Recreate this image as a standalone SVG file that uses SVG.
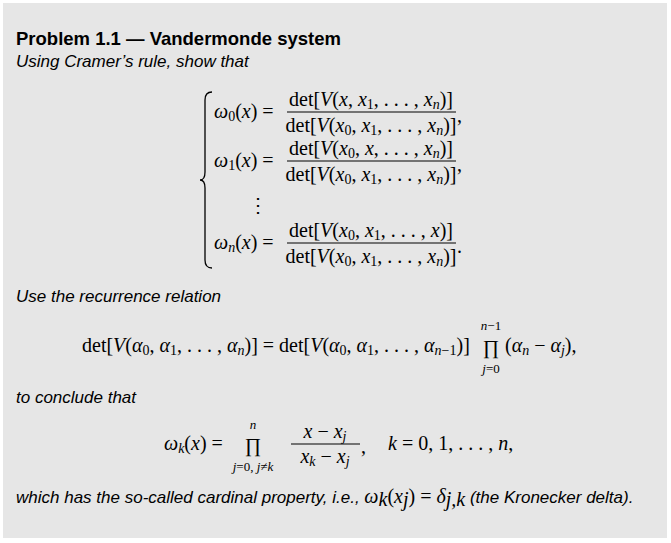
<svg xmlns="http://www.w3.org/2000/svg" width="671" height="543" viewBox="0 0 671 543">
<style>
.s{font-family:"Liberation Sans",Arial,sans-serif;font-size:17px;fill:#000}
.b{font-weight:bold;font-size:18.5px}
.it{font-style:italic}
.m{font-family:"Liberation Serif","Times New Roman",serif;font-size:20px;fill:#000}
.i{font-style:italic}
.sub{font-size:14px}
.sm{font-family:"Liberation Serif",serif;font-size:13px;fill:#000}
.fl{stroke:#000;stroke-width:1}
</style>
<rect x="3" y="3" width="664" height="535" fill="#e6e6e6"/>
<g id="title">
<text class="s b" x="16" y="45">Problem 1.1 — Vandermonde system</text>
<text class="s it" x="16" y="67">Using Cramer’s rule, show that</text>
</g>
<g id="system">
<path d="M212,92 Q205,92 205,100 L205,172 Q205,180 200,180 Q205,180 205,188 L205,260 Q205,268 212,268" fill="none" stroke="#000" stroke-width="1.3"/>
<text class="m" x="214" y="118"><tspan class="i">ω</tspan><tspan class="sub" dy="3">0</tspan><tspan dy="-3">(</tspan><tspan class="i">x</tspan>) =</text>
<text class="m" x="371" y="106" text-anchor="middle">det[<tspan class="i">V</tspan>(<tspan class="i">x</tspan>, <tspan class="i">x</tspan><tspan class="sub" dy="3">1</tspan><tspan dy="-3">, . . . , </tspan><tspan class="i">x</tspan><tspan class="sub i" dy="3">n</tspan><tspan dy="-3">)]</tspan></text>
<line class="fl" x1="287" y1="112" x2="456" y2="112"/>
<text class="m" x="371" y="132" text-anchor="middle">det[<tspan class="i">V</tspan>(<tspan class="i">x</tspan><tspan class="sub" dy="3">0</tspan><tspan dy="-3">, </tspan><tspan class="i">x</tspan><tspan class="sub" dy="3">1</tspan><tspan dy="-3">, . . . , </tspan><tspan class="i">x</tspan><tspan class="sub i" dy="3">n</tspan><tspan dy="-3">)]</tspan></text>
<text class="m" x="457" y="122">,</text>

<text class="m" x="214" y="167"><tspan class="i">ω</tspan><tspan class="sub" dy="3">1</tspan><tspan dy="-3">(</tspan><tspan class="i">x</tspan>) =</text>
<text class="m" x="371" y="155" text-anchor="middle">det[<tspan class="i">V</tspan>(<tspan class="i">x</tspan><tspan class="sub" dy="3">0</tspan><tspan dy="-3">, </tspan><tspan class="i">x</tspan>, . . . , <tspan class="i">x</tspan><tspan class="sub i" dy="3">n</tspan><tspan dy="-3">)]</tspan></text>
<line class="fl" x1="287" y1="161" x2="456" y2="161"/>
<text class="m" x="371" y="181" text-anchor="middle">det[<tspan class="i">V</tspan>(<tspan class="i">x</tspan><tspan class="sub" dy="3">0</tspan><tspan dy="-3">, </tspan><tspan class="i">x</tspan><tspan class="sub" dy="3">1</tspan><tspan dy="-3">, . . . , </tspan><tspan class="i">x</tspan><tspan class="sub i" dy="3">n</tspan><tspan dy="-3">)]</tspan></text>
<text class="m" x="457" y="171">,</text>

<text class="m" x="258" y="212" text-anchor="middle">⋮</text>

<text class="m" x="214" y="249"><tspan class="i">ω</tspan><tspan class="sub i" dy="3">n</tspan><tspan dy="-3">(</tspan><tspan class="i">x</tspan>) =</text>
<text class="m" x="371" y="237" text-anchor="middle">det[<tspan class="i">V</tspan>(<tspan class="i">x</tspan><tspan class="sub" dy="3">0</tspan><tspan dy="-3">, </tspan><tspan class="i">x</tspan><tspan class="sub" dy="3">1</tspan><tspan dy="-3">, . . . , </tspan><tspan class="i">x</tspan>)]</text>
<line class="fl" x1="287" y1="243" x2="456" y2="243"/>
<text class="m" x="371" y="263" text-anchor="middle">det[<tspan class="i">V</tspan>(<tspan class="i">x</tspan><tspan class="sub" dy="3">0</tspan><tspan dy="-3">, </tspan><tspan class="i">x</tspan><tspan class="sub" dy="3">1</tspan><tspan dy="-3">, . . . , </tspan><tspan class="i">x</tspan><tspan class="sub i" dy="3">n</tspan><tspan dy="-3">)]</tspan></text>
<text class="m" x="457" y="253">.</text>
</g>
<g id="recurrence">
<text class="s it" x="16" y="302">Use the recurrence relation</text>
<text class="m" x="82" y="352">det[<tspan class="i">V</tspan>(<tspan class="i">α</tspan><tspan class="sub" dy="3">0</tspan><tspan dy="-3">, </tspan><tspan class="i">α</tspan><tspan class="sub" dy="3">1</tspan><tspan dy="-3">, . . . , </tspan><tspan class="i">α</tspan><tspan class="sub i" dy="3">n</tspan><tspan dy="-3">)] = det[</tspan><tspan class="i">V</tspan>(<tspan class="i">α</tspan><tspan class="sub" dy="3">0</tspan><tspan dy="-3">, </tspan><tspan class="i">α</tspan><tspan class="sub" dy="3">1</tspan><tspan dy="-3">, . . . , </tspan><tspan class="i">α</tspan><tspan class="sub" dy="3"><tspan class="i">n</tspan>−1</tspan><tspan dy="-3">)]</tspan></text>
<text class="m" x="491" y="354" text-anchor="middle" font-size="26">∏</text>
<text class="sm i" x="491" y="330" text-anchor="middle">n<tspan font-style="normal">−1</tspan></text>
<text class="sm" x="491" y="373" text-anchor="middle"><tspan class="i">j</tspan>=0</text>
<text class="m" x="505" y="352">(<tspan class="i">α</tspan><tspan class="sub i" dy="3">n</tspan><tspan dy="-3"> − </tspan><tspan class="i">α</tspan><tspan class="sub i" dy="3">j</tspan><tspan dy="-3">),</tspan></text>
</g>
<g id="conclusion">
<text class="s it" x="16" y="403">to conclude that</text>
<text class="m" x="164" y="450"><tspan class="i">ω</tspan><tspan class="sub i" dy="3">k</tspan><tspan dy="-3">(</tspan><tspan class="i">x</tspan>) =</text>
<text class="m" x="253" y="452" text-anchor="middle" font-size="26">∏</text>
<text class="sm i" x="253" y="429" text-anchor="middle">n</text>
<text class="sm" x="253" y="471" text-anchor="middle"><tspan class="i">j</tspan>=0, <tspan class="i">j</tspan>≠<tspan class="i">k</tspan></text>
<text class="m" x="325" y="438" text-anchor="middle"><tspan class="i">x</tspan> − <tspan class="i">x</tspan><tspan class="sub i" dy="3">j</tspan></text>
<line class="fl" x1="291" y1="444" x2="360" y2="444"/>
<text class="m" x="325" y="463" text-anchor="middle"><tspan class="i">x</tspan><tspan class="sub i" dy="3">k</tspan><tspan dy="-3"> − </tspan><tspan class="i">x</tspan><tspan class="sub i" dy="3">j</tspan></text>
<text class="m" x="361" y="453">,</text>
<text class="m" x="388" y="450"><tspan class="i">k</tspan> = 0, 1, . . . , <tspan class="i">n</tspan>,</text>
<text class="s it" x="16" y="503" font-size="17.5">which has the so-called cardinal property, i.e., <tspan class="m i">ω</tspan><tspan class="m i" font-size="13" dy="3">k</tspan><tspan class="m" font-style="normal" dy="-3">(</tspan><tspan class="m i">x</tspan><tspan class="m i" font-size="13" dy="3">j</tspan><tspan class="m" font-style="normal" dy="-3">) = </tspan><tspan class="m i">δ</tspan><tspan class="m i" font-size="13" dy="3">j,k</tspan><tspan dy="-3"> (the Kronecker delta).</tspan></text>
</g>
</svg>
